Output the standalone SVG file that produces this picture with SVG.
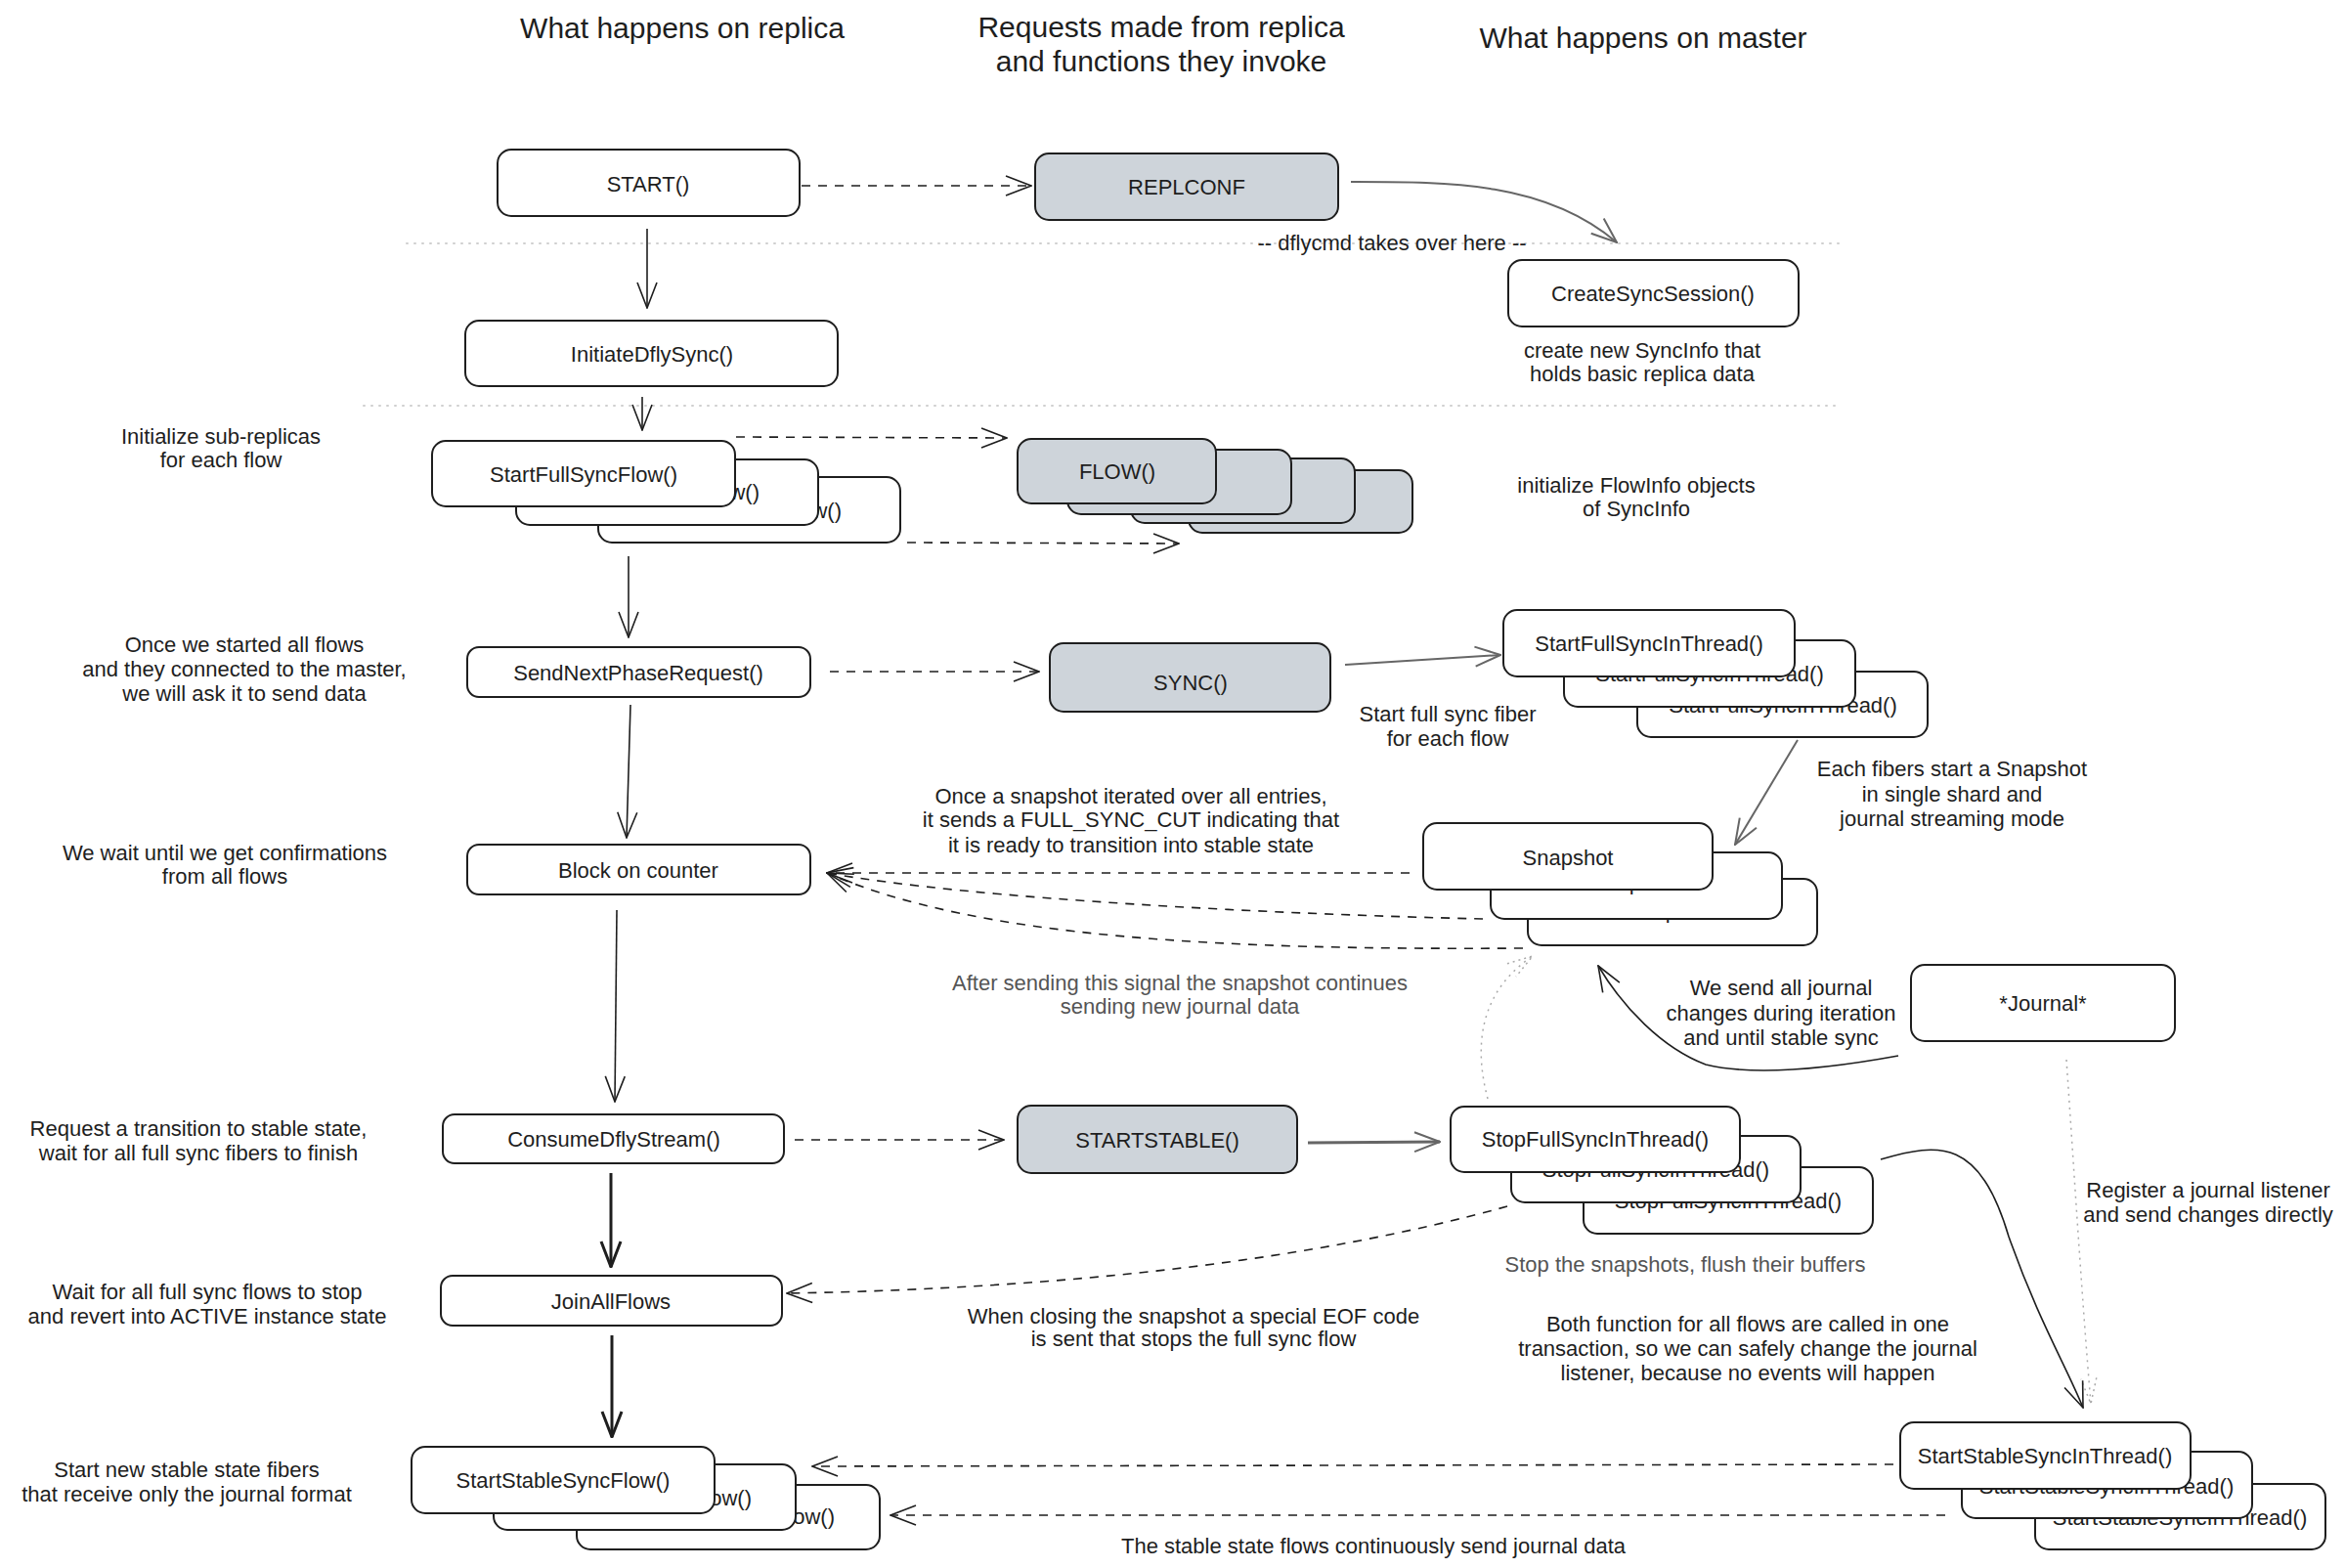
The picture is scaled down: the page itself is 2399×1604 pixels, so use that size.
<svg xmlns="http://www.w3.org/2000/svg" width="2399" height="1604" viewBox="0 0 2399 1604">
<style>
text{font-family:"Liberation Sans",Arial,sans-serif;fill:#1e1e1e;dominant-baseline:central;text-anchor:middle}
.title{font-size:30px}
.lbl{font-size:22px}
.frag{font-size:22px;text-anchor:end}
.note{font-size:22px}
.muted{fill:#555}
.box{fill:#fff;stroke:#1e1e1e;stroke-width:2}
.gbox{fill:#ced4da;stroke:#1e1e1e;stroke-width:2}
.sep{stroke:#cfcfcf;stroke-width:2;stroke-dasharray:1 7;stroke-linecap:round;fill:none}
.c{fill:none;stroke:#1e1e1e;stroke-width:1.6}
.dash{stroke-dasharray:9 8}
.thick{stroke-width:3}
.gr{stroke:#666;stroke-width:2}
.dot{stroke:#aaa;stroke-width:1.5;stroke-dasharray:2 5}
</style>
<defs>
<marker id="ah" viewBox="0 0 28 24" refX="27" refY="12" markerWidth="28" markerHeight="24" markerUnits="userSpaceOnUse" orient="auto"><path d="M1,2 L27,12 L1,22" fill="none" stroke="#1e1e1e" stroke-width="1.6"/></marker>
<marker id="aht" viewBox="0 0 28 24" refX="27" refY="12" markerWidth="28" markerHeight="24" markerUnits="userSpaceOnUse" orient="auto"><path d="M1,2 L27,12 L1,22" fill="none" stroke="#1e1e1e" stroke-width="3"/></marker>
<marker id="ahg" viewBox="0 0 28 24" refX="27" refY="12" markerWidth="28" markerHeight="24" markerUnits="userSpaceOnUse" orient="auto"><path d="M1,2 L27,12 L1,22" fill="none" stroke="#666" stroke-width="2"/></marker>
<marker id="ahd" viewBox="0 0 28 24" refX="27" refY="12" markerWidth="28" markerHeight="24" markerUnits="userSpaceOnUse" orient="auto"><path d="M1,4 L27,12 L1,20" fill="none" stroke="#aaa" stroke-width="1.5" stroke-dasharray="2 4"/></marker>
</defs>
<rect width="2399" height="1604" fill="#fff"/>

<g id="titles">
<text class="title" x="698" y="28">What happens on replica</text>
<text class="title" x="1188" y="27">Requests made from replica</text>
<text class="title" x="1188" y="62">and functions they invoke</text>
<text class="title" x="1681" y="38">What happens on master</text>
</g>

<g id="separators">
<path class="sep" d="M416,249 L1881,249"/>
<path class="sep" d="M372,415 L1881,415"/>
</g>

<g id="notes">
<text class="note" x="1424" y="248">-- dflycmd takes over here --</text>
<text class="note" x="226" y="446">Initialize sub-replicas</text>
<text class="note" x="226" y="470">for each flow</text>
<text class="note" x="250" y="659">Once we started all flows</text>
<text class="note" x="250" y="684">and they connected to the master,</text>
<text class="note" x="250" y="709">we will ask it to send data</text>
<text class="note" x="230" y="872">We wait until we get confirmations</text>
<text class="note" x="230" y="896">from all flows</text>
<text class="note" x="203" y="1154">Request a transition to stable state,</text>
<text class="note" x="203" y="1179">wait for all full sync fibers to finish</text>
<text class="note" x="212" y="1321">Wait for all full sync flows to stop</text>
<text class="note" x="212" y="1346">and revert into ACTIVE instance state</text>
<text class="note" x="191" y="1503">Start new stable state fibers</text>
<text class="note" x="191" y="1528">that receive only the journal format</text>
<text class="note" x="1680" y="358">create new SyncInfo that</text>
<text class="note" x="1680" y="382">holds basic replica data</text>
<text class="note" x="1674" y="496">initialize FlowInfo objects</text>
<text class="note" x="1674" y="520">of SyncInfo</text>
<text class="note" x="1481" y="730">Start full sync fiber</text>
<text class="note" x="1481" y="755">for each flow</text>
<text class="note" x="1997" y="786">Each fibers start a Snapshot</text>
<text class="note" x="1997" y="812">in single shard and</text>
<text class="note" x="1997" y="837">journal streaming mode</text>
<text class="note" x="1157" y="814">Once a snapshot iterated over all entries,</text>
<text class="note" x="1157" y="838">it sends a FULL_SYNC_CUT indicating that</text>
<text class="note" x="1157" y="864">it is ready to transition into stable state</text>
<text class="note muted" x="1207" y="1005">After sending this signal the snapshot continues</text>
<text class="note muted" x="1207" y="1029">sending new journal data</text>
<text class="note" x="1822" y="1010">We send all journal</text>
<text class="note" x="1822" y="1036">changes during iteration</text>
<text class="note" x="1822" y="1061">and until stable sync</text>
<text class="note" x="2259" y="1217">Register a journal listener</text>
<text class="note" x="2259" y="1242">and send changes directly</text>
<text class="note muted" x="1724" y="1293">Stop the snapshots, flush their buffers</text>
<text class="note" x="1788" y="1354">Both function for all flows are called in one</text>
<text class="note" x="1788" y="1379">transaction, so we can safely change the journal</text>
<text class="note" x="1788" y="1404">listener, because no events will happen</text>
<text class="note" x="1221" y="1346">When closing the snapshot a special EOF code</text>
<text class="note" x="1221" y="1369">is sent that stops the full sync flow</text>
<text class="note" x="1405" y="1581">The stable state flows continuously send journal data</text>
</g>

<g id="connectors">
<path class="c" d="M662,234 L662,315" marker-end="url(#ah)"/>
<path class="c dash" d="M820,190 L1055,190" marker-end="url(#ah)"/>
<path class="c gr" d="M1382,186 C1480,186 1580,185 1654,248" marker-end="url(#ahg)"/>
<path class="c" d="M657,406 L657,440" marker-end="url(#ah)"/>
<path class="c dash" d="M753,447 L1030,448" marker-end="url(#ah)"/>
<path class="c dash" d="M928,555 L1206,556" marker-end="url(#ah)"/>
<path class="c" d="M643,569 L643,652" marker-end="url(#ah)"/>
<path class="c dash" d="M849,687 L1063,687" marker-end="url(#ah)"/>
<path class="c gr" d="M1376,680 L1535,670" marker-end="url(#ahg)"/>
<path class="c" d="M645,721 L641,857" marker-end="url(#ah)"/>
<path class="c gr" d="M1839,757 L1775,864" marker-end="url(#ahg)"/>
<path class="c dash" d="M1442,893 L846,893" marker-end="url(#ah)"/>
<path class="c dash" d="M1517,940 C1300,935 1000,920 846,893" marker-end="url(#ah)"/>
<path class="c dash" d="M1558,970 C1250,972 1000,960 846,893" marker-end="url(#ah)"/>
<path class="c dot" d="M1522,1124 C1505,1060 1520,1010 1568,978" marker-end="url(#ahd)"/>
<path class="c" d="M1942,1080 C1860,1095 1790,1100 1745,1089 C1700,1072 1660,1030 1635,988" marker-end="url(#ah)"/>
<path class="c dot" d="M2114,1084 C2122,1200 2130,1330 2139,1436" marker-end="url(#ahd)"/>
<path class="c" d="M631,931 L629,1127" marker-end="url(#ah)"/>
<path class="c dash" d="M813,1166 L1027,1166" marker-end="url(#ah)"/>
<path class="c gr" style="stroke-width:3" d="M1338,1169 L1473,1168" marker-end="url(#ahg)"/>
<path class="c dash" d="M1542,1234 Q1250,1315 805,1323" marker-end="url(#ah)"/>
<path class="c" d="M1924,1186 C1985,1168 2025,1165 2055,1265 C2085,1350 2115,1400 2131,1440" marker-end="url(#ah)"/>
<path class="c thick" d="M625,1200 L625,1296" marker-end="url(#aht)"/>
<path class="c thick" d="M626,1366 L626,1470" marker-end="url(#aht)"/>
<path class="c dash" d="M1937,1498 L831,1500" marker-end="url(#ah)"/>
<path class="c dash" d="M1990,1550 L911,1550" marker-end="url(#ah)"/>
</g>

<g id="n-start"><rect class="box" x="509" y="153" width="309" height="68" rx="14"/><text class="lbl" x="663" y="188">START()</text></g>
<g id="n-replconf"><rect class="gbox" x="1059" y="157" width="310" height="68" rx="14"/><text class="lbl" x="1214" y="191">REPLCONF</text></g>
<g id="n-createsyncsession"><rect class="box" x="1543" y="266" width="297" height="68" rx="14"/><text class="lbl" x="1691" y="300">CreateSyncSession()</text></g>
<g id="n-initiate"><rect class="box" x="476" y="328" width="381" height="67" rx="14"/><text class="lbl" x="667" y="362">InitiateDflySync()</text></g>

<g id="n-startfullsyncflow">
<rect class="box" x="612" y="488" width="309" height="67" rx="14"/><text class="frag" x="861" y="522">Flow()</text>
<rect class="box" x="528" y="470" width="309" height="67" rx="14"/><text class="frag" x="777" y="503">Flow()</text>
<rect class="box" x="442" y="451" width="310" height="67" rx="14"/><text class="lbl" x="597" y="485">StartFullSyncFlow()</text>
</g>

<g id="n-flow">
<rect class="gbox" x="1216" y="481" width="229" height="64" rx="14"/>
<rect class="gbox" x="1157" y="469" width="229" height="66" rx="14"/>
<rect class="gbox" x="1092" y="460" width="229" height="66" rx="14"/>
<rect class="gbox" x="1041" y="449" width="203" height="66" rx="14"/><text class="lbl" x="1143" y="482">FLOW()</text>
</g>

<g id="n-sendnextphase"><rect class="box" x="478" y="662" width="351" height="51" rx="12"/><text class="lbl" x="653" y="688">SendNextPhaseRequest()</text></g>
<g id="n-sync"><rect class="gbox" x="1074" y="658" width="287" height="70" rx="14"/><text class="lbl" x="1218" y="698">SYNC()</text></g>

<g id="n-startfullsyncinthread">
<rect class="box" x="1675" y="687" width="297" height="67" rx="14"/><text class="lbl" x="1824" y="721">StartFullSyncInThread()</text>
<rect class="box" x="1600" y="655" width="298" height="68" rx="14"/><text class="lbl" x="1749" y="689">StartFullSyncInThread()</text>
<rect class="box" x="1538" y="624" width="298" height="68" rx="14"/><text class="lbl" x="1687" y="658">StartFullSyncInThread()</text>
</g>

<g id="n-block"><rect class="box" x="478" y="864" width="351" height="51" rx="12"/><text class="lbl" x="653" y="890">Block on counter</text></g>

<g id="n-snapshot">
<rect class="box" x="1563" y="899" width="296" height="68" rx="14"/><text class="lbl" x="1711" y="931">Snapshot</text>
<rect class="box" x="1525" y="872" width="298" height="68" rx="14"/><text class="lbl" x="1674" y="902">Snapshot</text>
<rect class="box" x="1456" y="842" width="296" height="68" rx="14"/><text class="lbl" x="1604" y="877">Snapshot</text>
</g>

<g id="n-journal"><rect class="box" x="1955" y="987" width="270" height="78" rx="14"/><text class="lbl" x="2090" y="1026">*Journal*</text></g>
<g id="n-consume"><rect class="box" x="453" y="1140" width="349" height="50" rx="12"/><text class="lbl" x="628" y="1165">ConsumeDflyStream()</text></g>
<g id="n-startstable"><rect class="gbox" x="1041" y="1131" width="286" height="69" rx="14"/><text class="lbl" x="1184" y="1166">STARTSTABLE()</text></g>

<g id="n-stopfullsyncinthread">
<rect class="box" x="1620" y="1194" width="296" height="68" rx="14"/><text class="lbl" x="1768" y="1228">StopFullSyncInThread()</text>
<rect class="box" x="1546" y="1162" width="296" height="68" rx="14"/><text class="lbl" x="1694" y="1196">StopFullSyncInThread()</text>
<rect class="box" x="1484" y="1132" width="296" height="67" rx="14"/><text class="lbl" x="1632" y="1165">StopFullSyncInThread()</text>
</g>

<g id="n-joinallflows"><rect class="box" x="451" y="1305" width="349" height="51" rx="12"/><text class="lbl" x="625" y="1331">JoinAllFlows</text></g>

<g id="n-startstablesyncflow">
<rect class="box" x="590" y="1519" width="310" height="66" rx="14"/><text class="frag" x="854" y="1551">Flow()</text>
<rect class="box" x="505" y="1498" width="309" height="67" rx="14"/><text class="frag" x="769" y="1532">Flow()</text>
<rect class="box" x="421" y="1480" width="310" height="68" rx="14"/><text class="lbl" x="576" y="1514">StartStableSyncFlow()</text>
</g>

<g id="n-startstablesyncinthread">
<rect class="box" x="2082" y="1518" width="297" height="67" rx="14"/><text class="lbl" x="2230" y="1552">StartStableSyncInThread()</text>
<rect class="box" x="2007" y="1485" width="297" height="68" rx="14"/><text class="lbl" x="2155" y="1520">StartStableSyncInThread()</text>
<rect class="box" x="1944" y="1455" width="297" height="68" rx="14"/><text class="lbl" x="2092" y="1489">StartStableSyncInThread()</text>
</g>
</svg>
